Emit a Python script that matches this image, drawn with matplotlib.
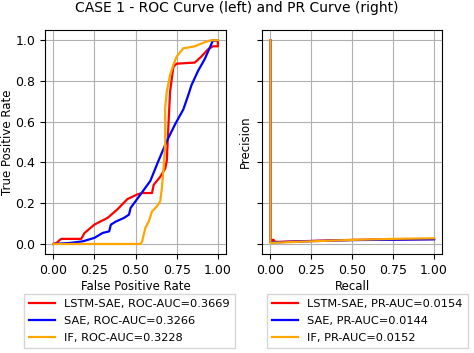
import matplotlib
matplotlib.use('Agg')
import matplotlib.pyplot as plt

# ROC curves (FPR, TPR)
lstm_fpr = [0.0, 0.02, 0.04, 0.05, 0.17, 0.19, 0.25, 0.33, 0.39, 0.45, 0.51, 0.54, 0.60, 0.61, 0.65, 0.68,
            0.69, 0.70, 0.71, 0.73, 0.75, 0.86, 0.90, 0.94, 0.97, 1.0, 1.0, 0.97, 1.0]
lstm_tpr = [0.0, 0.005, 0.02, 0.025, 0.025, 0.054, 0.095, 0.128, 0.17, 0.22, 0.243, 0.25, 0.25, 0.29, 0.33, 0.37,
            0.41, 0.59, 0.75, 0.87, 0.885, 0.89, 0.92, 0.955, 0.97, 0.97, 1.0, 1.0, 1.0]
sae_fpr = [0.0, 0.10, 0.18, 0.25, 0.30, 0.34, 0.35, 0.38, 0.43, 0.46, 0.47, 0.53, 0.59, 0.64, 0.69, 0.74,
           0.79, 0.82, 0.84, 0.88, 0.92, 0.96, 0.97, 1.0]
sae_tpr = [0.0, 0.005, 0.013, 0.03, 0.054, 0.062, 0.095, 0.11, 0.128, 0.144, 0.177, 0.243, 0.31, 0.41, 0.505, 0.587,
           0.66, 0.73, 0.78, 0.85, 0.907, 0.98, 1.0, 1.0]
if_fpr = [0.0, 0.53, 0.54, 0.56, 0.58, 0.60, 0.63, 0.65, 0.66, 0.67, 0.68, 0.68, 0.69, 0.71, 0.73, 0.75,
          0.79, 0.86, 0.92, 0.96, 1.0]
if_tpr = [0.0, 0.0, 0.013, 0.08, 0.11, 0.16, 0.185, 0.21, 0.275, 0.37, 0.49, 0.67, 0.75, 0.83, 0.88, 0.92,
          0.96, 0.97, 0.99, 1.0, 1.0]

# PR curves (recall, precision)
lstm_rec = [0.0, 0.0, 0.01, 0.02, 0.03, 0.25, 0.5, 0.75, 1.0]
lstm_prec = [1.0, 0.01, 0.02, 0.02, 0.01, 0.015, 0.02, 0.022, 0.024]
sae_rec = [0.0, 0.0, 0.02, 0.25, 0.5, 0.75, 1.0]
sae_prec = [1.0, 0.01, 0.008, 0.014, 0.019, 0.021, 0.023]
if_rec = [0.0, 0.0, 0.02, 0.25, 0.5, 0.75, 1.0]
if_prec = [1.0, 0.005, 0.006, 0.013, 0.02, 0.025, 0.028]

models = ['LSTM-SAE', 'SAE', 'IF']
colors = ['red', 'blue', 'orange']
roc_auc = [0.3669, 0.3266, 0.3228]
pr_auc = [0.0154, 0.0144, 0.0152]

plt.rcParams['font.size'] = 8.5
plt.rcParams['xtick.labelsize'] = 9
plt.rcParams['ytick.labelsize'] = 9

fig = plt.figure(figsize=(4.74, 3.53), dpi=100)
ax1 = fig.add_axes([0.095, 0.28, 0.382, 0.635])
ax2 = fig.add_axes([0.553, 0.28, 0.380, 0.635], sharey=ax1)

roc = [(lstm_fpr, lstm_tpr), (sae_fpr, sae_tpr), (if_fpr, if_tpr)]
pr = [(lstm_rec, lstm_prec), (sae_rec, sae_prec), (if_rec, if_prec)]

for i in range(3):
    ax1.plot(roc[i][0], roc[i][1], color=colors[i], lw=1.6,
             label='%s, ROC-AUC=%.4f' % (models[i], roc_auc[i]))
    ax2.plot(pr[i][0], pr[i][1], color=colors[i], lw=1.6,
             label='%s, PR-AUC=%.4f' % (models[i], pr_auc[i]))

ticks = [0.0, 0.25, 0.5, 0.75, 1.0]
for ax in (ax1, ax2):
    ax.set_xticks(ticks)
    ax.set_xticklabels(['%.2f' % t for t in ticks])
    ax.set_xlim(-0.05, 1.05)
    ax.grid(True)
ax1.set_ylim(-0.05, 1.05)
plt.setp(ax2.get_yticklabels(), visible=False)

ax1.set_xlabel('False Positive Rate', labelpad=2)
ax1.set_ylabel('True Positive Rate', labelpad=1)
ax2.set_xlabel('Recall', labelpad=2)
ax2.set_ylabel('Precision')

leg_kw = dict(loc='upper left', bbox_transform=fig.transFigure, borderaxespad=0, fancybox=False,
              fontsize=8.2, labelspacing=0.62, handlelength=2.3, handletextpad=0.8, borderpad=0.45)
ax1.legend(bbox_to_anchor=(0.05, 0.168), **leg_kw)
ax2.legend(bbox_to_anchor=(0.563, 0.168), **leg_kw)

fig.suptitle('CASE 1 - ROC Curve (left) and PR Curve (right)', fontsize=10, y=0.998)

fig.savefig('out.png', dpi=100)
